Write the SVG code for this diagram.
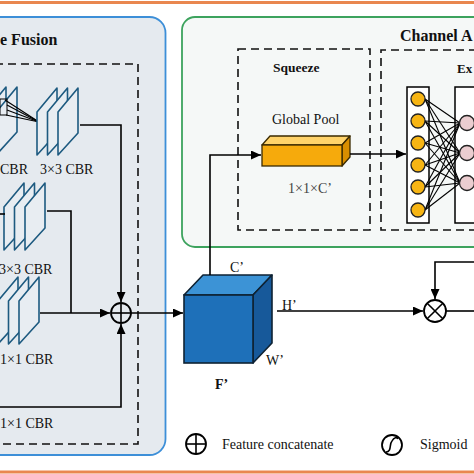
<svg xmlns="http://www.w3.org/2000/svg" xmlns:xlink="http://www.w3.org/1999/xlink" width="474" height="474" viewBox="0 0 474 474">
<style>
  text{font-family:"Liberation Serif","Times New Roman",serif;fill:#111;}
  .t{font-size:14px;}
  .b{font-weight:bold;}
  .ln{fill:none;stroke:#000;stroke-width:1.6;}
  .dash{fill:none;stroke:#111;stroke-width:1.6;stroke-dasharray:8 5;}
  .pl{fill:#E8EDF2;stroke:#1D5A80;stroke-width:1.6;stroke-linejoin:round;}
  .op{fill:none;stroke:#000;stroke-width:1.8;}
  .nn{stroke:#000;stroke-width:1.1;}
</style>
<defs>
  <marker id="ah" markerUnits="userSpaceOnUse" markerWidth="10" markerHeight="9" refX="10" refY="4.5" orient="auto">
    <path d="M0,0 L10,4.5 L0,9 z" fill="#000"/>
  </marker>
  <path id="plane" d="M0,24 L20,0 L20,45 L0,67 Z" class="pl"/>
</defs>
<rect width="474" height="474" fill="#fff"/>
<line x1="0" y1="2.5" x2="474" y2="2.5" stroke="#E9874F" stroke-width="3"/>
<line x1="0" y1="472" x2="474" y2="472" stroke="#E9874F" stroke-width="3"/>

<g id="fusion-panel">
  <rect x="-20" y="17" width="185.5" height="438" rx="16" fill="#E5EAEF" stroke="#3D8FD8" stroke-width="1.8"/>
  <text x="0" y="45" class="b" font-size="16">e Fusion</text>
  <path class="dash" d="M-5,64 H138 V444 H-5"/>
</g>

<g id="stack-a">
  <use xlink:href="#plane" x="-25" y="87"/>
  <use xlink:href="#plane" x="-14" y="87"/>
  <use xlink:href="#plane" x="-3" y="87"/>
  <rect x="0" y="99" width="7" height="16" fill="none" stroke="#000" stroke-width="1"/>
  <g stroke="#000" stroke-width="1.2">
    <line x1="5" y1="100" x2="39" y2="122"/>
    <line x1="7" y1="105" x2="39" y2="122"/>
    <line x1="7" y1="110" x2="39" y2="122"/>
    <line x1="6" y1="115" x2="39" y2="122"/>
  </g>
  <text x="0" y="174" class="t">CBR</text>
</g>

<g id="stack-b">
  <use xlink:href="#plane" x="37" y="88"/>
  <use xlink:href="#plane" x="47.5" y="88"/>
  <use xlink:href="#plane" x="58" y="88"/>
  <text x="40" y="174" class="t">3×3 CBR</text>
</g>

<g id="stack-c">
  <use xlink:href="#plane" x="4" y="183"/>
  <use xlink:href="#plane" x="14.5" y="183"/>
  <use xlink:href="#plane" x="25" y="183"/>
  <text x="-1" y="274" class="t">3×3 CBR</text>
</g>

<g id="stack-d">
  <use xlink:href="#plane" x="-2" y="277"/>
  <use xlink:href="#plane" x="8.5" y="277"/>
  <use xlink:href="#plane" x="19" y="277"/>
  <text x="0" y="364" class="t">1×1 CBR</text>
</g>

<g id="conv-1x1">
  <text x="0" y="428" class="t">1×1 CBR</text>
</g>

<g id="concat">
  <circle cx="121" cy="313" r="10" class="op" fill="#E5EAEF"/>
  <line x1="111" y1="313" x2="131" y2="313" stroke="#000" stroke-width="1.6"/>
  <line x1="121" y1="303" x2="121" y2="323" stroke="#000" stroke-width="1.6"/>
</g>

<g id="channel-panel">
  <rect x="182" y="17" width="320" height="230" rx="13" fill="#F5F8F7" stroke="#3DA35E" stroke-width="1.8"/>
  <text x="400" y="41" class="b" font-size="16">Channel A</text>
  <rect x="238" y="49" width="132" height="181" class="dash"/>
  <path class="dash" d="M490,50 H381 V230 H490"/>
  <text x="273" y="72" class="b" font-size="13.5">Squeeze</text>
  <text x="457" y="73" class="b" font-size="13">Ex</text>
</g>

<g id="global-pool">
  <text x="272" y="124" class="t">Global Pool</text>
  <path d="M262,145 L270,136 L350,136 L342,145 Z" fill="#FFD36A" stroke="#3A2A00" stroke-width="1.3" stroke-linejoin="round"/>
  <path d="M342,145 L350,136 L350,157 L342,166 Z" fill="#D98E00" stroke="#3A2A00" stroke-width="1.3" stroke-linejoin="round"/>
  <rect x="262" y="145" width="80" height="21" fill="#F6AA0C" stroke="#3A2A00" stroke-width="1.3"/>
  <text x="310" y="193" class="t" text-anchor="middle" style="fill:#444">1×1×C’</text>
</g>

<g id="fc-layers">
  <rect x="407" y="87" width="22" height="136" fill="#fff" stroke="#000" stroke-width="1.5"/>
  <rect x="455" y="87" width="30" height="136" fill="#fff" stroke="#000" stroke-width="1.5"/>
  <g class="nn">
    <line x1="425" y1="99" x2="460" y2="123"/><line x1="425" y1="99" x2="460" y2="153"/><line x1="425" y1="99" x2="460" y2="183"/>
    <line x1="425" y1="121" x2="460" y2="123"/><line x1="425" y1="121" x2="460" y2="153"/><line x1="425" y1="121" x2="460" y2="183"/>
    <line x1="425" y1="143" x2="460" y2="123"/><line x1="425" y1="143" x2="460" y2="153"/><line x1="425" y1="143" x2="460" y2="183"/>
    <line x1="425" y1="165" x2="460" y2="123"/><line x1="425" y1="165" x2="460" y2="153"/><line x1="425" y1="165" x2="460" y2="183"/>
    <line x1="425" y1="187" x2="460" y2="123"/><line x1="425" y1="187" x2="460" y2="153"/><line x1="425" y1="187" x2="460" y2="183"/>
    <line x1="425" y1="210" x2="460" y2="123"/><line x1="425" y1="210" x2="460" y2="153"/><line x1="425" y1="210" x2="460" y2="183"/>
  </g>
  <g fill="#F7B514" stroke="#222" stroke-width="1.3">
    <circle cx="418" cy="99" r="7"/><circle cx="418" cy="121" r="7"/><circle cx="418" cy="143" r="7"/>
    <circle cx="418" cy="165" r="7"/><circle cx="418" cy="187" r="7"/><circle cx="418" cy="210" r="7"/>
  </g>
  <g fill="#EBCDD0" stroke="#222" stroke-width="1.3">
    <circle cx="467" cy="123" r="7.5"/><circle cx="467" cy="153" r="7.5"/><circle cx="467" cy="183" r="7.5"/>
  </g>
</g>

<g id="feature-cube">
  <path d="M184,295 L203,275 L272,275 L253,295 Z" fill="#3C93D6" stroke="#0E2233" stroke-width="1.6" stroke-linejoin="round"/>
  <path d="M253,295 L272,275 L272,343 L253,363 Z" fill="#17599A" stroke="#0E2233" stroke-width="1.6" stroke-linejoin="round"/>
  <rect x="184" y="295" width="69" height="68" fill="#1E70B9" stroke="#0E2233" stroke-width="1.6"/>
  <text x="237" y="272" class="t" text-anchor="middle">C’</text>
  <text x="282" y="310" class="t">H’</text>
  <text x="266" y="365" class="t">W’</text>
  <text x="215" y="389" class="t b">F’</text>
</g>

<g id="multiply">
  <circle cx="435" cy="311" r="11" class="op" fill="#fff"/>
  <line x1="427.2" y1="303.2" x2="442.8" y2="318.8" stroke="#000" stroke-width="1.6"/>
  <line x1="442.8" y1="303.2" x2="427.2" y2="318.8" stroke="#000" stroke-width="1.6"/>
</g>

<g id="connectors">
  <path class="ln" d="M80,125 H121 V302" marker-end="url(#ah)"/>
  <path class="ln" d="M47,211 H71 V313"/>
  <path class="ln" d="M0,214 H5"/>
  <path class="ln" d="M40,313 H110" marker-end="url(#ah)"/>
  <path class="ln" d="M0,407 H121 V324" marker-end="url(#ah)"/>
  <path class="ln" d="M131,313 H183" marker-end="url(#ah)"/>
  <path class="ln" d="M210,275 V155 H261" marker-end="url(#ah)"/>
  <path class="ln" d="M350,154 H406" marker-end="url(#ah)"/>
  <path class="ln" d="M277,311 H423" marker-end="url(#ah)"/>
  <path class="ln" d="M474,262 H435 V299" marker-end="url(#ah)"/>
  <path class="ln" d="M446,311 H474"/>
</g>

<g id="legend">
  <circle cx="196" cy="444" r="10" class="op"/>
  <line x1="186" y1="444" x2="206" y2="444" stroke="#000" stroke-width="1.6"/>
  <line x1="196" y1="434" x2="196" y2="454" stroke="#000" stroke-width="1.6"/>
  <text x="222" y="449" class="t">Feature concatenate</text>
  <circle cx="392" cy="445" r="10" class="op"/>
  <path d="M386,452 C392,452 389,444 392,441 C394,437 397,437 398,439" fill="none" stroke="#000" stroke-width="1.6"/>
  <text x="420" y="449" class="t">Sigmoid</text>
</g>
</svg>
